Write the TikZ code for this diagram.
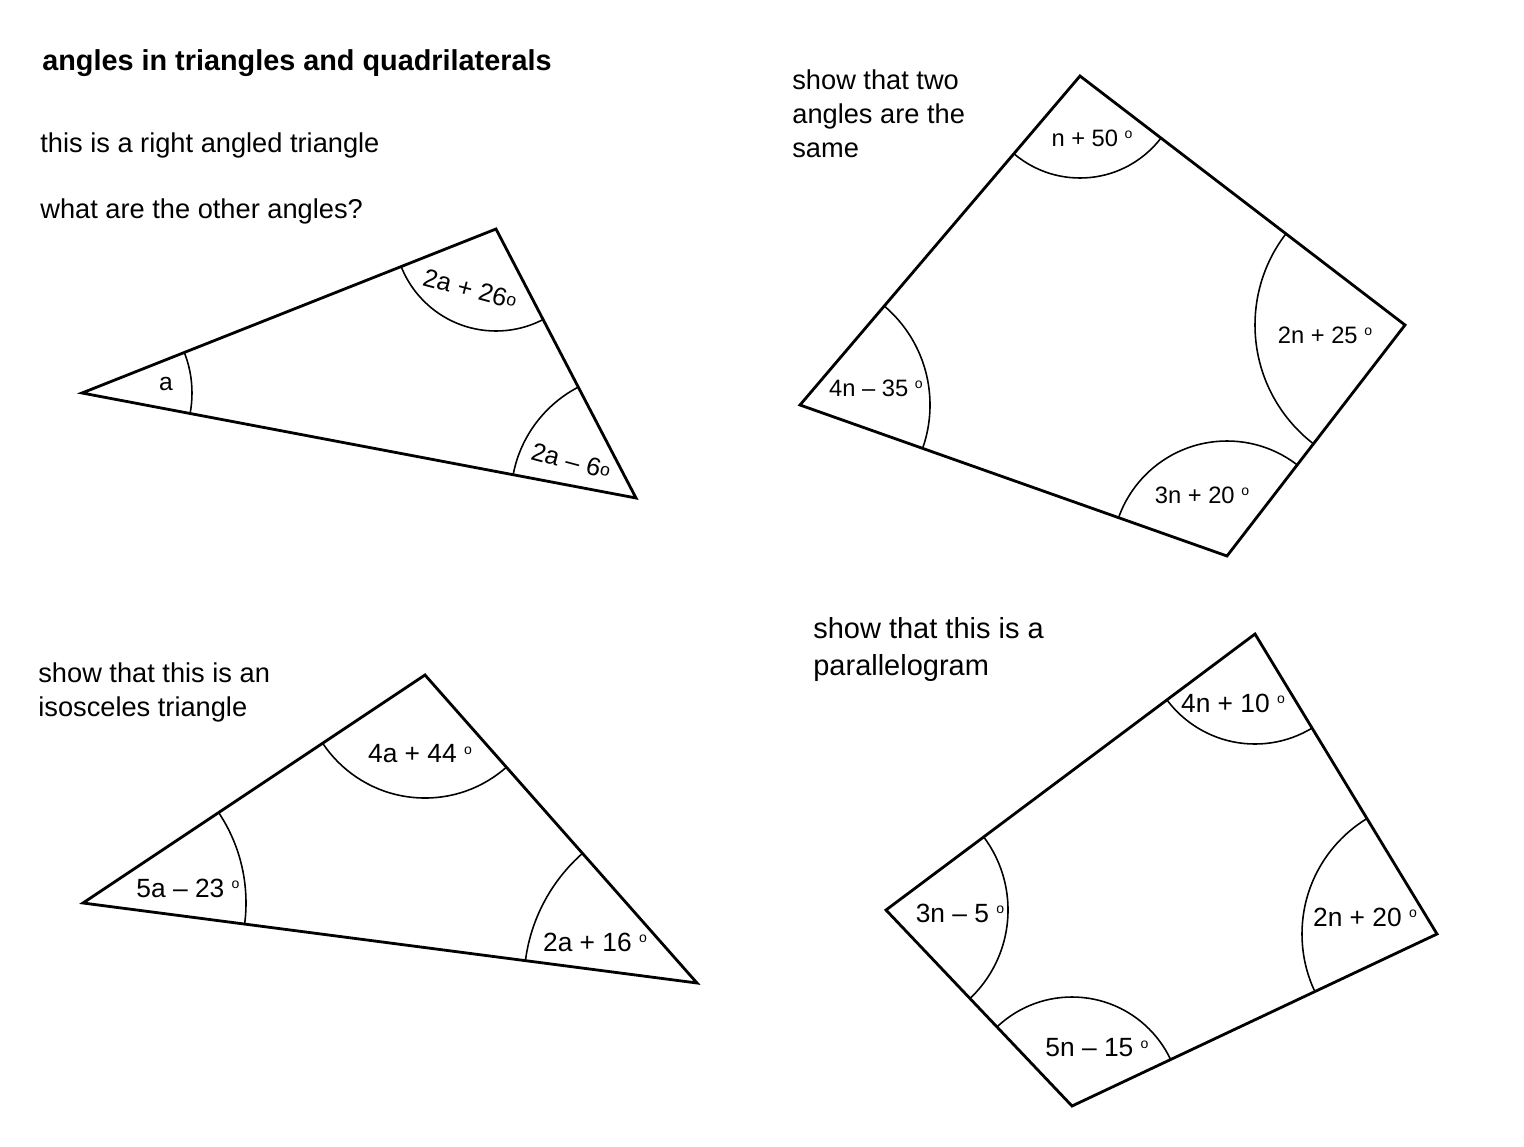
\documentclass[tikz,border=0pt]{standalone}
\usepackage{fontspec}
\setmainfont{Liberation Sans}
\newcommand{\dg}{\ \raisebox{.6ex}{\fontsize{8}{8}\selectfont o}}
\newcommand{\dgc}{\raisebox{.25ex}{\fontsize{10}{10}\selectfont o}}
\begin{document}
\begin{tikzpicture}[x=0.02cm,y=-0.02cm,
  shape line/.style={line width=1.6pt,line join=miter},
  arcline/.style={line width=0.9pt},
  txt/.style={font=\fontsize{15.5}{19.5}\selectfont,anchor=west,align=left,inner sep=0pt},
  lbl/.style={font=\fontsize{13.5}{16}\selectfont,inner sep=0pt},
  lblb/.style={font=\fontsize{15}{18}\selectfont,inner sep=0pt}]
\useasboundingbox (0,0) rectangle (1524,1146);
\fill[white] (0,0) rectangle (1524,1146);
\node[txt,font=\bfseries\fontsize{16.4}{20}\selectfont] (title) at (42,63) {angles in triangles and quadrilaterals};
\node[txt] (t1) at (40,145) {this is a right angled triangle};
\node[txt] (t2) at (40,211) {what are the other angles?};
\node[txt,anchor=north west] (t3) at (792,69) {show that two\\angles are the\\same};
\node[txt,anchor=north west] (t4) at (38,662) {show that this is an\\isosceles triangle};
\node[txt,font=\fontsize{16.5}{21}\selectfont,anchor=north west] (t5) at (813,617) {show that this is a\\parallelogram};
% triangle 1
\coordinate (a1) at (82,393); \coordinate (a2) at (496,229); \coordinate (a3) at (636,498);
\begin{scope}\clip (a1)--(a2)--(a3)--cycle;
\draw[arcline] (a1) circle[radius=110]; \draw[arcline] (a2) circle[radius=102]; \draw[arcline] (a3) circle[radius=125];
\end{scope}
\draw[shape line] (a1)--(a2)--(a3)--cycle;
\node[lbl,font=\fontsize{14}{16}\selectfont] (la) at (166,384) {a};
\node[lbl,font=\fontsize{14.5}{16}\selectfont,rotate=-15] (lb) at (470,289) {2a + 26\dgc};
\node[lbl,font=\fontsize{14.5}{16}\selectfont,rotate=-15] (lc) at (571,461) {2a -- 6\dgc};
% quad 1
\coordinate (b1) at (1080,76); \coordinate (b2) at (1405,325); \coordinate (b3) at (1227,556); \coordinate (b4) at (800,405);
\begin{scope}\clip (b1)--(b2)--(b3)--(b4)--cycle;
\draw[arcline] (b1) circle[radius=102]; \draw[arcline] (b2) circle[radius=150]; \draw[arcline] (b3) circle[radius=115]; \draw[arcline] (b4) circle[radius=130];
\end{scope}
\draw[shape line] (b1)--(b2)--(b3)--(b4)--cycle;
\node[lbl] (lq1) at (1092,138) {n + 50\dg};
\node[lbl] (lq2) at (1325,335) {2n + 25\dg};
\node[lbl] (lq3) at (1202,495) {3n + 20\dg};
\node[lbl] (lq4) at (876,388) {4n -- 35\dg};
% triangle 2
\coordinate (c1) at (83,903); \coordinate (c2) at (425,675); \coordinate (c3) at (697,983);
\begin{scope}\clip (c1)--(c2)--(c3)--cycle;
\draw[arcline] (c1) circle[radius=163]; \draw[arcline] (c2) circle[radius=123]; \draw[arcline] (c3) circle[radius=173];
\end{scope}
\draw[shape line] (c1)--(c2)--(c3)--cycle;
\node[lblb] (lt1) at (420,754) {4a + 44\dg};
\node[lblb] (lt2) at (188,888) {5a -- 23\dg};
\node[lblb] (lt3) at (595,942) {2a + 16\dg};
% quad 2
\coordinate (d1) at (1255,634); \coordinate (d2) at (1437,934); \coordinate (d3) at (1072,1106); \coordinate (d4) at (886,910);
\begin{scope}\clip (d1)--(d2)--(d3)--(d4)--cycle;
\draw[arcline] (d1) circle[radius=110]; \draw[arcline] (d2) circle[radius=135]; \draw[arcline] (d3) circle[radius=109]; \draw[arcline] (d4) circle[radius=122];
\end{scope}
\draw[shape line] (d1)--(d2)--(d3)--(d4)--cycle;
\node[lblb] (lp1) at (1233,703) {4n + 10\dg};
\node[lblb] (lp2) at (1365,917) {2n + 20\dg};
\node[lblb] (lp3) at (1097,1048) {5n -- 15\dg};
\node[lblb] (lp4) at (960,913) {3n -- 5\dg};
\end{tikzpicture}
\end{document}
